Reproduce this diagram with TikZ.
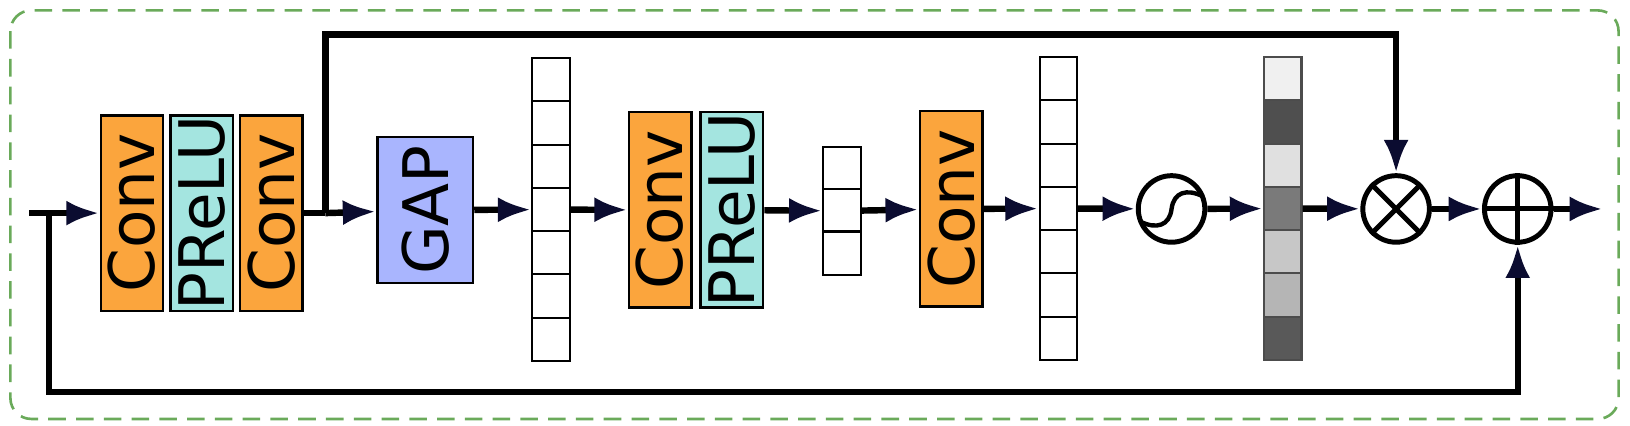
\documentclass[tikz,border=0pt]{standalone}
\usepackage{fontspec}
\setmainfont{DejaVu Sans}
\usetikzlibrary{arrows.meta,calc}
\definecolor{convc}{HTML}{FBA53D}
\definecolor{reluc}{HTML}{A4E5E0}
\definecolor{gapc}{HTML}{A9B5FE}
\definecolor{tipc}{HTML}{0B0C30}
\definecolor{boxc}{HTML}{6AAA5A}

\begin{document}
\begin{tikzpicture}[x=0.025cm,y=-0.025cm,
  blk/.style={draw=black,line width=1.7pt,minimum height=1.5cm,minimum width=4.7cm,inner sep=0pt,font=\fontsize{43}{43}\selectfont,rotate=90},
  cell/.style={draw=black,line width=1.4pt,fill=white,minimum width=0.9cm,minimum height=1.04cm,inner sep=0pt},
  op/.style={draw=black,circle,line width=3.4pt,minimum size=1.6cm,inner sep=0pt},
  flow/.style={line width=4.4pt,-{Latex[length=0.8cm,width=0.6cm,color=tipc]}},
  wire/.style={line width=4.4pt}]

\draw[boxc,dashed,line width=1.8pt,dash pattern=on 12pt off 7pt,rounded corners=0.5cm] (10,10) rectangle (1557,403);

% Blocks
\node[blk,fill=convc] (conv1) at (127,205) {Conv};
\node[blk,fill=reluc] (relu1) at (194,205) {PReLU};
\node[blk,fill=convc] (conv2) at (261,205) {Conv};
\node[blk,fill=gapc,minimum width=3.5cm,minimum height=2.3cm] (gap) at (409,202) {GAP};
\node[blk,fill=convc] (conv3) at (635,202) {Conv};
\node[blk,fill=reluc] (relu2) at (704,202) {PReLU};
\node[blk,fill=convc] (conv4) at (915,201) {Conv};

% Vectors
\foreach \i in {1,...,7}
  \node[cell] (va\i) at (530,{56+20.8+(\i-1)*41.6}) {};
\foreach \i in {1,...,3}
  \node[cell] (vb\i) at (810,{142+20.3+(\i-1)*40.6}) {};
\foreach \i in {1,...,7}
  \node[cell] (vc\i) at (1018,{55+20.8+(\i-1)*41.6}) {};
\foreach \g [count=\i] in {94,31,88,48,78,71,35}
  \node[cell,draw=black!70,fill=black!\the\numexpr100-\g\relax] (vd\i) at (1234,{55+20.8+(\i-1)*41.6}) {};

% Operators
\node[op] (sig) at (1127,201) {};
\draw[line width=3pt] ($(sig.west)+(4,12)$) .. controls +(16,8) and +(-2,16) .. (sig.center) .. controls +(2,-16) and +(-16,-8) .. ($(sig.east)+(-4,-12)$);
\node[op] (mul) at (1343,201) {};
\draw[line width=3.4pt] (mul.north west) -- (mul.south east) (mul.north east) -- (mul.south west);
\node[op] (add) at (1460,201) {};
\draw[line width=3.4pt] (add.north) -- (add.south) (add.west) -- (add.east);

\coordinate (in) at (28,205);
\coordinate (out) at (1542,201);
\coordinate (fb) at (47,205);
\coordinate (sk) at (313,205);

% Main path
\draw[flow] (in) -- (conv1);
\draw[wire] (conv2.south) -- (sk);
\draw[flow] (sk) -- (gap);
\draw[flow] (gap) -- (va4);
\draw[flow] (va4) -- (conv3);
\draw[flow] (relu2) -- (vb2);
\draw[flow] (vb2) -- (conv4);
\draw[flow] (conv4) -- (vc4);
\draw[flow] (vc4) -- (sig);
\draw[flow] (sig) -- (vd4);
\draw[flow] (vd4) -- (mul);
\draw[flow] (mul) -- (add);
\draw[flow] (add) -- (out);

% Skip paths
\draw[flow] (sk) |- (1343,33) -- (mul);
\draw[flow] (fb) |- (1460,377) -- (add);

\pgfresetboundingbox
\useasboundingbox (0,0) rectangle (1568,409);
\end{tikzpicture}
\end{document}
